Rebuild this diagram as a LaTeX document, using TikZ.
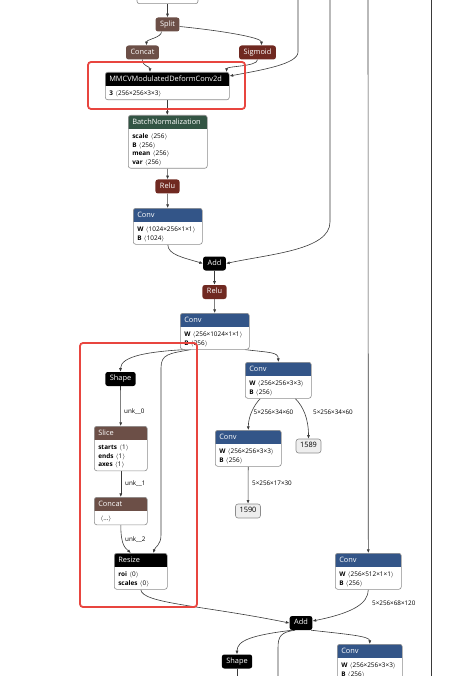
\documentclass[tikz,border=0pt]{standalone}
\usepackage{fontspec}
\setmainfont{Open Sans}
\usetikzlibrary{arrows.meta}
\pgfdeclarelayer{background}
\pgfsetlayers{background,main}

\definecolor{layerblue}{RGB}{51,85,136}
\definecolor{actred}{RGB}{112,41,33}
\definecolor{shapebrown}{RGB}{108,79,71}
\definecolor{normgreen}{RGB}{51,85,68}
\definecolor{nodeline}{HTML}{8C8C8C}
\definecolor{valfill}{HTML}{EEEEEE}
\definecolor{edgecol}{HTML}{3A3A3A}
\definecolor{hired}{HTML}{E8453F}

\newcommand{\hdrfont}{\fontsize{7.4}{9}\selectfont}
\newcommand{\bodyfont}{\fontsize{6.4}{8.5}\selectfont}
\newcommand{\lblfont}{\fontsize{6.3}{7.5}\selectfont}
\newcommand{\ophead}[1]{{\hdrfont\color{white}\rule[-2.5pt]{0pt}{9.5pt}#1}}
\newcommand{\tdims}[1]{$\langle$#1$\rangle$}
\newcommand{\lastline}{\rule[-2pt]{0pt}{0pt}}

\tikzset{opbox/.style 2 args={
  draw=nodeline,
  fill=white,
  line width=0.6pt,
  rounded corners=2.5pt,
  anchor=north west,
  inner xsep=4pt,
  inner ysep=2pt,
  text width=#2,
  align=left,
  font=\bodyfont,
  path picture={\fill[#1, sharp corners] (path picture bounding box.north west) rectangle ([yshift=-13.5pt]path picture bounding box.north east);},
  }
  }
\tikzset{opsmall/.style={
  fill=#1,
  text=white,
  rounded corners=2.5pt,
  inner xsep=4.5pt,
  inner ysep=0pt,
  minimum height=14pt,
  text height=5.4pt,
  text depth=1.6pt,
  font=\hdrfont,
  }
  }
\tikzset{valbox/.style={
  draw=nodeline,
  fill=valfill,
  line width=0.6pt,
  rounded corners=2.5pt,
  inner xsep=4pt,
  inner ysep=0pt,
  minimum height=14pt,
  text height=5.4pt,
  text depth=1.6pt,
  font=\hdrfont,
  }
  }
\tikzset{prevbox/.style={draw=nodeline, fill=white, line width=0.6pt, rounded corners=2.5pt, minimum width=61pt, minimum height=20pt}}
\tikzset{flow/.style={draw=edgecol, line width=0.6pt, -{Latex[length=3.6pt,width=3pt]}}}
\tikzset{wire/.style={draw=edgecol, line width=0.6pt}}
\tikzset{lbl/.style={anchor=west, inner sep=0pt, font=\lblfont}}
\tikzset{hilite/.style={draw=hired, line width=1.8pt, rounded corners=3pt}}

\begin{document}
\begin{tikzpicture}[x=1pt,y=-1pt]
      \useasboundingbox (0,0) rectangle (474,676);

      \coordinate (inA) at (298,-5);
      \coordinate (inB) at (330,-5);
      \coordinate (inC) at (368,-5);
      \coordinate (inD) at (431,-5);
      \coordinate (outD) at (431,681);
      \coordinate (outE) at (278,681);
      \coordinate (outF) at (237,681);

      \node[prevbox, anchor=south] (prev) at (167.5,4) {};
      \node[opsmall=shapebrown] (split) at (167.5,24.5) {Split};
      \node[opsmall=shapebrown] (concatA) at (142.5,52.5) {Concat};
      \node[opsmall=actred] (sigmoid) at (257.5,52.5) {Sigmoid};
      \node[opbox={black}{116pt}] (mmcv) at (105,72) {\ophead{MMCVModulatedDeformConv2d}\\[6pt]
        \textbf{3} \tdims{256×256×3×3}\lastline};
      \node[opbox={normgreen}{71pt}] (bn) at (128,115) {\ophead{BatchNormalization}\\[6pt]
        \textbf{scale} \tdims{256}\\ \textbf{B} \tdims{256}\\ \textbf{mean} \tdims{256}\\ \textbf{var} \tdims{256}\lastline};
      \node[opsmall=actred] (relu1) at (167.5,186.5) {Relu};
      \node[opbox={layerblue}{61pt}] (conv1) at (133,208) {\ophead{Conv}\\[6pt]
        \textbf{W} \tdims{1024×256×1×1}\\ \textbf{B} \tdims{1024}\lastline};
      \node[opsmall=black] (add1) at (214.5,263.5) {Add};
      \node[opsmall=actred] (relu2) at (214.5,292) {Relu};
      \node[opbox={layerblue}{61pt}] (conv2) at (180,313) {\ophead{Conv}\\[6pt]
        \textbf{W} \tdims{256×1024×1×1}\\ \textbf{B} \tdims{256}\lastline};
      \node[opsmall=black] (shape1) at (120.5,379) {Shape};
      \node[opbox={shapebrown}{45pt}] (slice) at (94,426) {\ophead{Slice}\\[6pt]
        \textbf{starts} \tdims{1}\\ \textbf{ends} \tdims{1}\\ \textbf{axes} \tdims{1}\lastline};
      \node[opbox={shapebrown}{45pt}] (concatB) at (94,497) {\ophead{Concat}\\[6pt]
        \hspace{2pt}\tdims{...}\lastline};
      \node[opbox={black}{45pt}] (resize) at (114,553) {\ophead{Resize}\\[6pt]
        \textbf{roi} \tdims{0}\\ \textbf{scales} \tdims{0}\lastline};
      \node[opbox={layerblue}{58pt}] (conv5) at (245,362) {\ophead{Conv}\\[6pt]
        \textbf{W} \tdims{256×256×3×3}\\ \textbf{B} \tdims{256}\lastline};
      \node[opbox={layerblue}{58pt}] (conv6) at (215,430) {\ophead{Conv}\\[6pt]
        \textbf{W} \tdims{256×256×3×3}\\ \textbf{B} \tdims{256}\lastline};
      \node[valbox] (v1589) at (308.5,446) {1589};
      \node[valbox] (v1590) at (248,511) {1590};
      \node[opbox={layerblue}{58pt}] (conv3) at (335,553) {\ophead{Conv}\\[6pt]
        \textbf{W} \tdims{256×512×1×1}\\ \textbf{B} \tdims{256}\lastline};
      \node[opsmall=black] (add2) at (301,623) {Add};
      \node[opsmall=black] (shape2) at (237,661.5) {Shape};
      \node[opbox={layerblue}{57pt}] (conv4) at (337,644) {\ophead{Conv}\\[6pt]
        \textbf{W} \tdims{256×256×3×3}\\ \textbf{B} \tdims{256}\lastline};

      \node[lbl] (lunk0) at (124,412) {unk\_\_0};
      \node[lbl] (lunk1) at (125,484) {unk\_\_1};
      \node[lbl] (lunk2) at (125,540) {unk\_\_2};
      \node[lbl] (lconv5a) at (253.5,412) {5×256×34×60};
      \node[lbl] (lconv5b) at (313,412) {5×256×34×60};
      \node[lbl] (lconv6) at (252,483) {5×256×17×30};
      \node[lbl] (lconv3) at (372,603) {5×256×68×120};

      \begin{pgfonlayer}{background}
      \draw[flow] (prev) -- (split);
      \draw[flow] ([xshift=-6pt]split.south) .. controls +(0,6) and +(0,-6) .. ([xshift=4pt]concatA.north);
      \draw[flow] ([yshift=-2pt]split.east) .. controls +(40,4) and +(0,-8) .. ([xshift=4pt]sigmoid.north);
      \draw[flow] (concatA.south) .. controls +(0,7) and +(0,-6) .. ([xshift=45pt]mmcv.north west);
      \draw[flow] (sigmoid.south) .. controls +(0,7) and +(0,-6) .. ([xshift=-3pt]mmcv.north east);
      \draw[flow] (inA) -- (298,52) .. controls (298,64) and (262,70) .. ([yshift=-4pt]mmcv.north east);
      \draw[flow] (mmcv.south) -- (mmcv.south |- bn.north);
      \draw[flow] (bn) -- (relu1);
      \draw[flow] (relu1) -- (conv1);
      \draw[flow] (conv1.south) .. controls +(0,10) and +(-20,-6) .. (add1.west);
      \draw[flow] (inB) -- (330,222) .. controls (330,250) and (270,254) .. (add1.east);
      \draw[flow] (add1) -- (relu2);
      \draw[flow] (relu2) -- (conv2);
      \draw[flow] ([xshift=-30pt]conv2.south) .. controls +(-35,2) and +(0,-16) .. (shape1.north);
      \draw[flow] ([xshift=-24pt]conv2.south) .. controls +(-22,4) and +(0,-14) .. (161,368) -- (161,535)
        .. controls (161,545) and (155,547) .. ([xshift=12.5pt]resize.north);
      \draw[flow] (shape1) -- (slice);
      \draw[flow] (slice) -- (concatB);
      \draw[flow] (concatB.south) .. controls +(0,20.5) and +(-5.5,-5) .. ([xshift=-10pt]resize.north);
      \draw[flow] (resize.south) .. controls +(1.5,14) and +(-89,-18) .. (add2.west);
      \draw[flow] ([xshift=30pt]conv2.south) .. controls +(25,3) and +(0,-10) .. (conv5.north);
      \draw[flow] ([xshift=-18pt]conv5.south) .. controls +(-6,6) and +(0,-14) .. (conv6.north);
      \draw[flow] ([xshift=17pt]conv5.south) .. controls +(8,8) and +(0,-20) .. (v1589.north);
      \draw[flow] (conv6) -- (v1590);
      \draw[flow] (inC) -- (conv3.north);
      \draw[wire] (inD) -- (outD);
      \draw[flow] (conv3.south) .. controls +(0,14) and +(40,-8) .. ([yshift=2pt]add2.east);
      \draw[flow] ([xshift=-9pt]add2.south) .. controls +(-40,5) and +(0,-14) .. (shape2.north);
      \draw[wire] ([xshift=-6pt]add2.south) .. controls +(-14,2) and +(0,-12) .. (278,648) -- (outE);
      \draw[flow] ([xshift=10pt]add2.south) .. controls +(35,4) and +(0,-8) .. (conv4.north);
      \draw[wire] (shape2) -- (outF);
      \end{pgfonlayer}

      \draw[hilite] (88,62) rectangle (245,109);
      \draw[hilite] (80,343) rectangle (197,607);
\end{tikzpicture}
\end{document}
